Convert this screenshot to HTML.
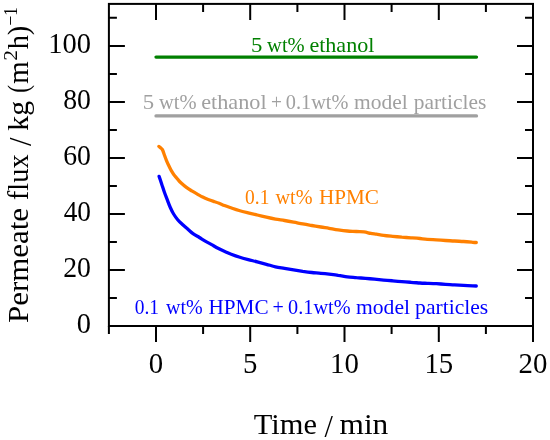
<!DOCTYPE html>
<html lang="en"><head><meta charset="utf-8"><title>Permeate flux vs time</title>
<style>html,body{margin:0;padding:0;background:#fff}body{width:550px;height:440px;overflow:hidden}svg{display:block}text{font-family:"Liberation Serif",serif;fill:#000}</style>
</head><body>
<svg width="550" height="440" viewBox="0 0 550 440">
<rect width="550" height="440" fill="#fff"/>
<g fill="none" stroke-width="3.3" stroke-linecap="round" stroke-linejoin="round">
<line x1="156.0" y1="57.1" x2="476.5" y2="57.1" stroke="#008000"/>
<line x1="156.0" y1="115.9" x2="476.5" y2="115.9" stroke="#a0a0a0"/>
<path d="M158.9 146.4C159.3 146.8 160.8 147.8 161.4 148.5C162.0 149.2 162.2 149.2 162.7 150.3C163.2 151.4 163.9 153.6 164.5 155.3C165.1 157.0 165.7 158.6 166.4 160.3C167.1 162.0 167.8 163.6 168.6 165.3C169.4 167.0 170.3 168.9 171.3 170.6C172.3 172.3 173.4 174.2 174.5 175.6C175.6 177.0 176.5 178.0 177.6 179.2C178.7 180.4 179.4 181.4 180.9 182.8C182.4 184.2 184.6 186.1 186.4 187.4C188.2 188.8 190.0 189.8 191.8 190.9C193.6 192.0 195.5 193.1 197.3 194.1C199.1 195.1 200.9 196.2 202.7 197.1C204.5 198.0 206.4 198.8 208.2 199.5C210.0 200.2 211.8 200.8 213.6 201.4C215.4 202.0 217.3 202.6 219.1 203.3C220.9 204.0 222.7 204.8 224.5 205.5C226.3 206.2 227.6 206.7 230.0 207.5C232.4 208.3 236.1 209.6 239.1 210.5C242.1 211.4 245.2 212.1 248.2 212.8C251.2 213.6 254.3 214.3 257.3 215.0C260.3 215.7 263.4 216.5 266.4 217.2C269.4 217.9 272.5 218.6 275.5 219.2C278.5 219.8 281.5 220.0 284.5 220.5C287.5 221.0 290.6 221.6 293.6 222.2C296.6 222.8 299.7 223.3 302.7 223.9C305.7 224.5 308.8 225.0 311.8 225.5C314.8 226.0 318.0 226.5 320.9 227.0C323.8 227.5 326.2 227.8 329.1 228.3C332.0 228.8 335.2 229.5 338.2 229.9C341.2 230.3 344.3 230.7 347.3 231.0C350.3 231.3 353.6 231.3 356.4 231.5C359.2 231.7 361.6 231.6 364.0 231.9C366.4 232.2 368.6 233.0 370.7 233.4C372.8 233.8 374.4 233.9 376.5 234.2C378.6 234.5 380.9 235.0 383.6 235.3C386.3 235.7 389.7 236.0 392.7 236.3C395.7 236.6 398.8 236.9 401.8 237.2C404.8 237.4 407.9 237.6 410.9 237.8C413.9 238.0 417.3 238.2 420.0 238.5C422.7 238.8 424.6 239.1 427.3 239.3C430.0 239.5 433.4 239.7 436.4 239.9C439.4 240.1 442.5 240.3 445.5 240.5C448.5 240.7 451.5 240.8 454.5 241.0C457.5 241.2 460.6 241.3 463.6 241.5C466.6 241.7 470.6 242.1 472.7 242.3C474.8 242.5 475.7 242.5 476.3 242.5" stroke="#ff8000"/>
<path d="M159.1 176.4C159.6 177.7 160.9 181.7 161.8 184.4C162.7 187.1 163.5 189.8 164.5 192.5C165.5 195.2 166.8 198.5 167.7 200.9C168.6 203.3 169.1 204.8 170.1 207.0C171.1 209.2 172.3 211.9 173.6 214.0C174.9 216.1 176.2 217.9 177.7 219.7C179.2 221.5 181.1 223.2 182.8 224.8C184.5 226.4 186.2 227.8 187.9 229.3C189.6 230.8 191.1 232.3 193.0 233.7C194.9 235.1 197.3 236.2 199.4 237.5C201.5 238.8 203.6 240.2 205.7 241.4C207.8 242.6 210.0 243.7 212.1 244.9C214.2 246.1 216.4 247.4 218.5 248.5C220.6 249.6 222.7 250.5 224.8 251.4C226.9 252.3 228.8 253.3 231.2 254.2C233.6 255.1 236.3 256.1 239.1 257.0C241.9 257.9 245.2 258.8 248.2 259.6C251.2 260.4 254.3 261.1 257.3 261.9C260.3 262.7 263.4 263.5 266.4 264.3C269.4 265.1 272.5 266.1 275.5 266.8C278.5 267.5 281.5 267.8 284.5 268.3C287.5 268.8 290.6 269.3 293.6 269.8C296.6 270.3 299.7 270.9 302.7 271.4C305.7 271.8 308.8 272.2 311.8 272.5C314.8 272.8 318.0 273.0 320.9 273.3C323.8 273.6 326.2 273.8 329.1 274.1C332.0 274.5 335.2 274.9 338.2 275.4C341.2 275.8 344.3 276.4 347.3 276.8C350.3 277.2 353.4 277.4 356.4 277.7C359.4 277.9 362.5 278.1 365.5 278.3C368.5 278.6 371.5 278.9 374.5 279.2C377.5 279.5 380.6 279.8 383.6 280.1C386.6 280.4 389.7 280.6 392.7 280.8C395.7 281.1 398.8 281.4 401.8 281.6C404.8 281.9 407.9 282.1 410.9 282.3C413.9 282.5 417.3 282.8 420.0 283.0C422.7 283.2 424.6 283.2 427.3 283.3C430.0 283.4 433.4 283.5 436.4 283.7C439.4 283.9 442.5 284.1 445.5 284.3C448.5 284.5 451.5 284.6 454.5 284.8C457.5 285.0 460.6 285.2 463.6 285.4C466.6 285.6 470.6 285.8 472.7 285.9C474.8 286.0 475.7 286.0 476.3 286.0" stroke="#0000ff"/>
</g>
<g stroke="#000" stroke-width="2.0" fill="none" stroke-linecap="butt">
<rect x="108.9" y="3.9" width="424.1" height="322.1"/>
<path d="M108.9 326.0v8M156.0 326.0v16M156.0 3.9v16M203.1 326.0v8M203.1 3.9v8M250.2 326.0v16M250.2 3.9v16M297.4 326.0v8M297.4 3.9v8M344.5 326.0v16M344.5 3.9v16M391.6 326.0v8M391.6 3.9v8M438.8 326.0v16M438.8 3.9v16M485.9 326.0v8M485.9 3.9v8M533.0 326.0v16M108.9 298.0h8M533.0 298.0h-8M108.9 270.0h16M533.0 270.0h-16M108.9 242.0h8M533.0 242.0h-8M108.9 213.9h16M533.0 213.9h-16M108.9 185.9h8M533.0 185.9h-8M108.9 157.9h16M533.0 157.9h-16M108.9 129.9h8M533.0 129.9h-8M108.9 101.9h16M533.0 101.9h-16M108.9 73.9h8M533.0 73.9h-8M108.9 45.9h16M533.0 45.9h-16M108.9 17.8h8M533.0 17.8h-8"/>
</g>
<g font-size="29.8">
<text x="76.8" y="333.2" textLength="14.2" lengthAdjust="spacingAndGlyphs">0</text>
<text x="63.2" y="277.2" textLength="27.7" lengthAdjust="spacingAndGlyphs">20</text>
<text x="63.7" y="221.1" textLength="27.3" lengthAdjust="spacingAndGlyphs">40</text>
<text x="63.2" y="165.1" textLength="27.7" lengthAdjust="spacingAndGlyphs">60</text>
<text x="63.2" y="109.1" textLength="27.7" lengthAdjust="spacingAndGlyphs">80</text>
<text x="48.3" y="53.1" textLength="42.7" lengthAdjust="spacingAndGlyphs">100</text>
<text x="148.8" y="373.3" textLength="14.4" lengthAdjust="spacingAndGlyphs">0</text>
<text x="243.1" y="373.3" textLength="14.4" lengthAdjust="spacingAndGlyphs">5</text>
<text x="330.1" y="373.3" textLength="28.8" lengthAdjust="spacingAndGlyphs">10</text>
<text x="424.4" y="373.3" textLength="28.8" lengthAdjust="spacingAndGlyphs">15</text>
<text x="518.6" y="373.3" textLength="28.8" lengthAdjust="spacingAndGlyphs">20</text>
</g>
<text y="51.7" font-size="20.4" style="fill:#008000"><tspan x="250.9" y="51.7" textLength="11.4" lengthAdjust="spacingAndGlyphs">5</tspan> <tspan x="267.1" y="51.7" textLength="37.6" lengthAdjust="spacingAndGlyphs">wt%</tspan> <tspan x="309.4" y="51.7" textLength="65.0" lengthAdjust="spacingAndGlyphs">ethanol</tspan></text>
<text y="108.9" font-size="20.4" style="fill:#a0a0a0"><tspan x="142.7" y="108.9" textLength="11.4" lengthAdjust="spacingAndGlyphs">5</tspan> <tspan x="158.9" y="108.9" textLength="37.6" lengthAdjust="spacingAndGlyphs">wt%</tspan> <tspan x="201.2" y="108.9" textLength="65.4" lengthAdjust="spacingAndGlyphs">ethanol</tspan> <tspan x="270.9" y="108.9" textLength="10.9" lengthAdjust="spacingAndGlyphs">+</tspan> <tspan x="285.8" y="108.9" textLength="62.6" lengthAdjust="spacingAndGlyphs">0.1wt%</tspan> <tspan x="354.1" y="108.9" textLength="53.7" lengthAdjust="spacingAndGlyphs">model</tspan> <tspan x="413.7" y="108.9" textLength="72.6" lengthAdjust="spacingAndGlyphs">particles</tspan></text>
<text y="204.1" font-size="20.4" style="fill:#ff8000"><tspan x="245.1" y="204.1" textLength="24.3" lengthAdjust="spacingAndGlyphs">0.1</tspan> <tspan x="275.5" y="204.1" textLength="37.0" lengthAdjust="spacingAndGlyphs">wt%</tspan> <tspan x="318.9" y="204.1" textLength="59.9" lengthAdjust="spacingAndGlyphs">HPMC</tspan></text>
<text y="313.9" font-size="20.4" style="fill:#0000ff"><tspan x="134.8" y="313.9" textLength="24.3" lengthAdjust="spacingAndGlyphs">0.1</tspan> <tspan x="166.0" y="313.9" textLength="36.7" lengthAdjust="spacingAndGlyphs">wt%</tspan> <tspan x="208.5" y="313.9" textLength="60.1" lengthAdjust="spacingAndGlyphs">HPMC</tspan> <tspan x="272.6" y="313.9" textLength="11.3" lengthAdjust="spacingAndGlyphs">+</tspan> <tspan x="288.1" y="313.9" textLength="62.4" lengthAdjust="spacingAndGlyphs">0.1wt%</tspan> <tspan x="356.0" y="313.9" textLength="54.0" lengthAdjust="spacingAndGlyphs">model</tspan> <tspan x="415.1" y="313.9" textLength="73.1" lengthAdjust="spacingAndGlyphs">particles</tspan></text>
<text y="434.1" font-size="28.4"><tspan x="253.8" y="434.1" textLength="63.2" lengthAdjust="spacingAndGlyphs">Time</tspan> <tspan x="324.5" y="436.5" font-size="32.4" textLength="8.4" lengthAdjust="spacingAndGlyphs">/</tspan> <tspan x="339.5" y="434.1" textLength="48.8" lengthAdjust="spacingAndGlyphs">min</tspan></text>
<g transform="translate(28.4 322.5) rotate(-90)">
<text font-size="28.4"><tspan x="-0.5" y="0.0" font-size="28.4" textLength="115.1" lengthAdjust="spacingAndGlyphs">Permeate</tspan> <tspan x="122.3" y="0.0" font-size="28.4" textLength="45.8" lengthAdjust="spacingAndGlyphs">flux</tspan> <tspan x="176.6" y="2.4" font-size="32.4" textLength="8.4" lengthAdjust="spacingAndGlyphs">/</tspan> <tspan x="191.8" y="0.0" font-size="28.4" textLength="29.8" lengthAdjust="spacingAndGlyphs">kg</tspan> <tspan x="229.8" y="0.0" font-size="28.4" textLength="7.7" lengthAdjust="spacingAndGlyphs">(</tspan><tspan x="238.8" y="0.0" font-size="28.4" textLength="22.4" lengthAdjust="spacingAndGlyphs">m</tspan><tspan x="261.8" y="-11.1" font-size="19.0" textLength="10.7" lengthAdjust="spacingAndGlyphs">2</tspan><tspan x="273.2" y="0.0" font-size="28.4" textLength="23.6" lengthAdjust="spacingAndGlyphs">h)</tspan><tspan x="297.0" y="-11.1" font-size="19.0" textLength="18.4" lengthAdjust="spacingAndGlyphs">−1</tspan></text>
</g>
</svg>
</body></html>
